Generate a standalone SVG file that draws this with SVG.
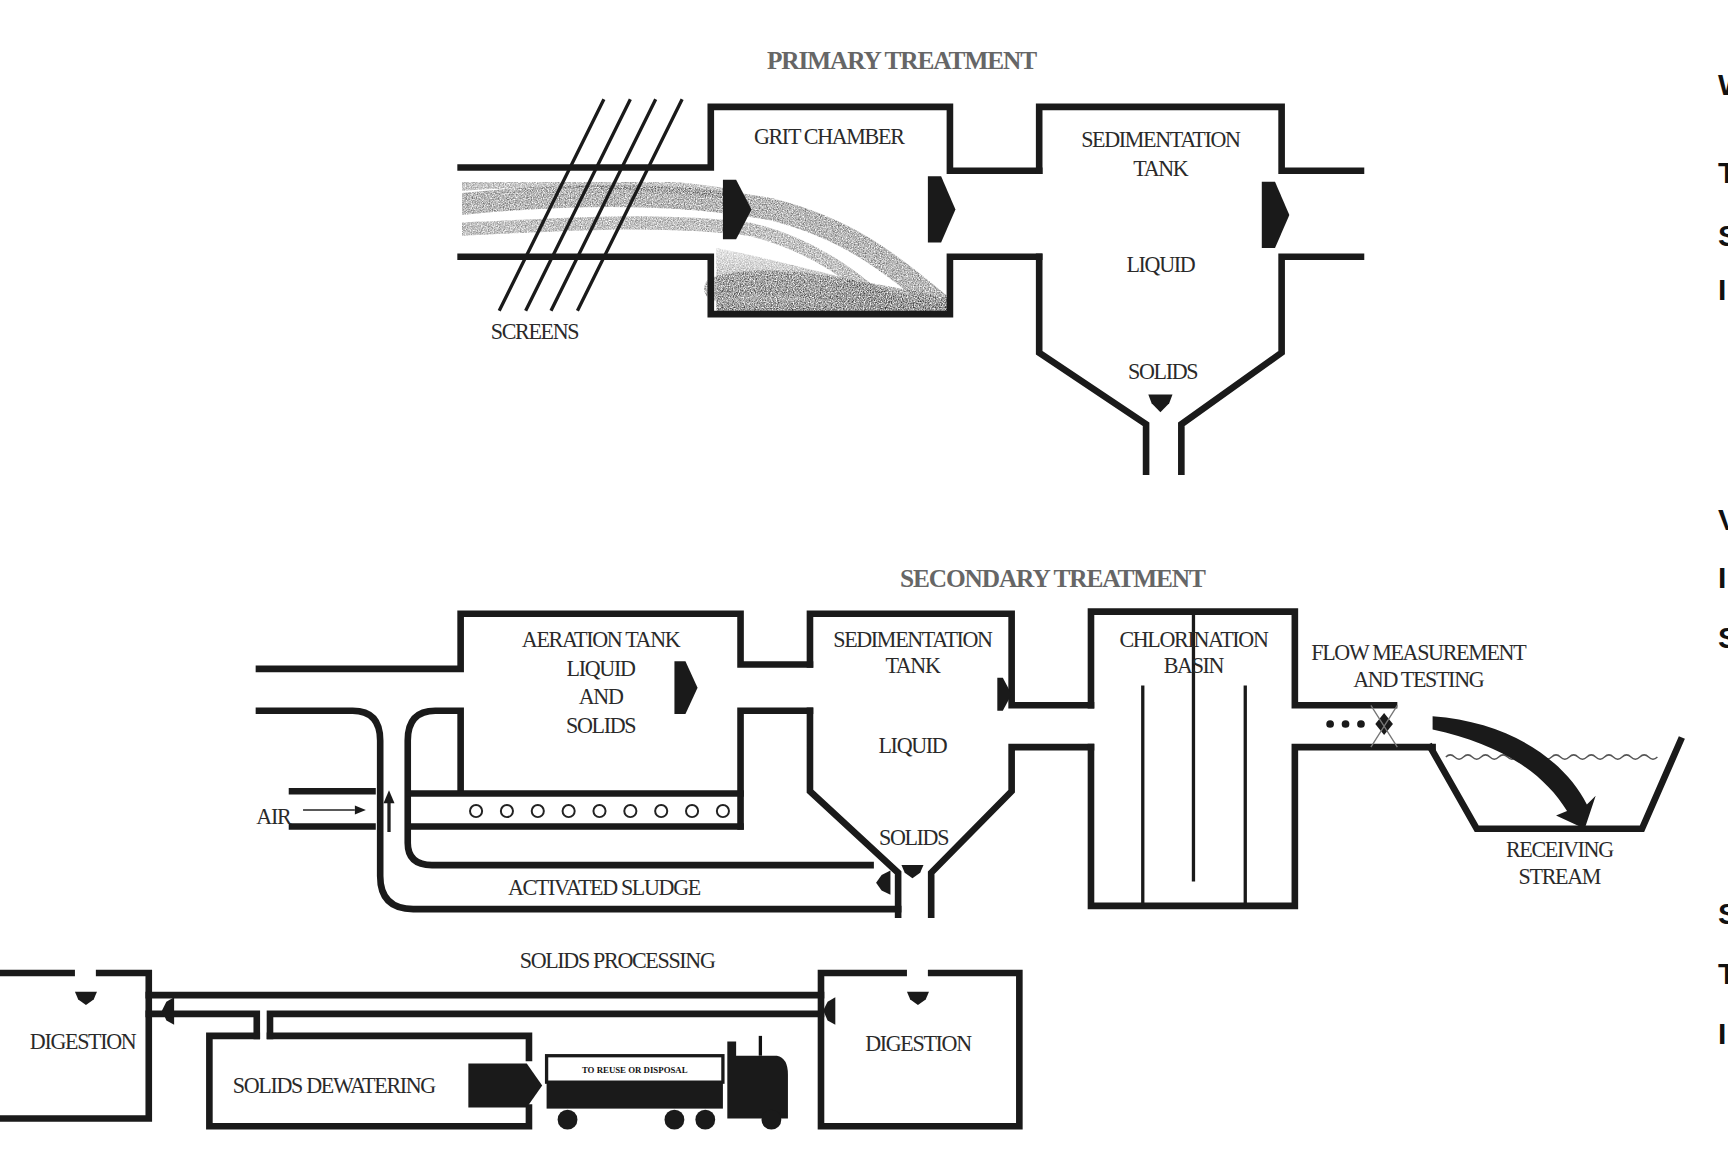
<svg xmlns="http://www.w3.org/2000/svg" width="1728" height="1163" viewBox="0 0 1728 1163">
<defs>
<style>
.w{fill:none;stroke:#1a1a1a;stroke-width:6;stroke-linecap:square}
.t{fill:none;stroke:#1a1a1a;stroke-width:3}
.f{fill:#1a1a1a}
.l{font-family:"Liberation Serif",serif;font-size:20px;fill:#2a2a2a;text-anchor:middle;letter-spacing:-1.2px}
.h{font-family:"Liberation Serif",serif;font-size:23px;font-weight:bold;fill:#666;text-anchor:middle;letter-spacing:-1px}
.e{font-family:"Liberation Sans",sans-serif;font-size:30px;font-weight:bold;fill:#111}
</style>
<linearGradient id="g" x1="0" y1="0" x2="0" y2="1"><stop offset="0" stop-color="#555" stop-opacity="0.3"/><stop offset="1" stop-color="#222" stop-opacity="0.95"/></linearGradient>
<filter id="grain" x="0" y="0" width="1" height="1"><feTurbulence type="fractalNoise" baseFrequency="0.9" numOctaves="2" result="n"/><feColorMatrix in="n" type="matrix" values="0 0 0 0 0  0 0 0 0 0  0 0 0 0 0  0 0 0 -1.6 1.3" result="m"/><feComposite in="SourceGraphic" in2="m" operator="in"/></filter>
</defs>
<rect width="1728" height="1163" fill="#fff"/>
<g transform="scale(1.102)">
<g id="primary">
<text class="h" x="818" y="63">PRIMARY TREATMENT</text>
<g id="flow-sludge" fill="none" stroke="#333" stroke-linecap="round" filter="url(#grain)">
<path d="M420,185 C520,175 620,175 700,190 C780,210 820,250 858,280" stroke-width="20" stroke-opacity="0.7"/>
<path d="M420,208 C520,203 600,198 680,208 C740,222 780,255 810,282" stroke-width="12" stroke-opacity="0.6"/>
<path d="M420,168 C500,163 600,166 660,176" stroke-width="10" stroke-opacity="0.55"/>
<path d="M650,285 L650,225 C700,235 760,250 862,278 L862,285 Z" fill="url(#g)" stroke="none"/>
<path d="M650,262 C700,248 760,262 862,282" stroke-width="22" stroke-opacity="0.7"/>
</g>
<g id="screens" class="t"><path d="M453,282 L548,90 M477,282 L572,90 M500,282 L595,90 M524,282 L619,90"/></g>
<text class="l" x="485" y="308">SCREENS</text>
<g id="grit-chamber">
<path class="w" d="M418,152 H645 V97 H862 V155 H943"/>
<path class="w" d="M418,233 H645 V285 H862 V233 H943"/>
<text class="l" x="752" y="131">GRIT CHAMBER</text>
<path class="f" d="M656,163 L668,163 L682,190 L668,217 L656,217 Z"/>
<path class="f" d="M842,160 L854,160 L867,190 L854,220 L842,220 Z"/>
</g>
<g id="sedimentation-1">
<path class="w" d="M943,155 V97 H1163 V155 H1235"/>
<path class="w" d="M943,233 V320 L1040,385 V428 M1163,233 V320 L1072,385 V428 M1163,233 H1235"/>
<text class="l" x="1053" y="133">SEDIMENTATION</text>
<text class="l" x="1053" y="160">TANK</text>
<text class="l" x="1053" y="247">LIQUID</text>
<text class="l" x="1055" y="344">SOLIDS</text>
<path class="f" d="M1042,358 L1064,358 L1061,366 L1053,374 L1045,366 Z"/>
<path class="f" d="M1145,165 L1157,165 L1170,195 L1157,225 L1145,225 Z"/>
</g>
</g>
<g id="secondary">
<text class="h" x="955" y="533">SECONDARY TREATMENT</text>
<g id="aeration-tank">
<path class="w" d="M235,607 H418 V557 H672 V603 H735"/>
<path class="w" d="M235,645 H320 Q345,645 345,672 V795 Q345,825 375,825 H815"/>
<path class="w" d="M418,645 V718 M418,645 H395 Q370,645 370,672 V765 Q370,785 392,785 H790"/>
<path class="w" d="M672,645 V750 M672,645 H735"/>
<path class="w" d="M265,718 H338 M265,750 H338 M372,720 H672 M372,750 H672"/>
<g fill="none" stroke="#222" stroke-width="1.8"><circle cx="432" cy="736" r="5.5"/><circle cx="460" cy="736" r="5.5"/><circle cx="488" cy="736" r="5.5"/><circle cx="516" cy="736" r="5.5"/><circle cx="544" cy="736" r="5.5"/><circle cx="572" cy="736" r="5.5"/><circle cx="600" cy="736" r="5.5"/><circle cx="628" cy="736" r="5.5"/><circle cx="656" cy="736" r="5.5"/></g>
<text class="l" x="545" y="587" font-size="18">AERATION TANK</text>
<text class="l" x="545" y="613" font-size="18">LIQUID</text>
<text class="l" x="545" y="639" font-size="18">AND</text>
<text class="l" x="545" y="665" font-size="18">SOLIDS</text>
<path class="f" d="M612,600 L622,600 L633,624 L622,648 L612,648 Z"/>
<text class="l" x="248" y="748" font-size="18">AIR</text>
<path d="M275,735 H322" stroke="#222" stroke-width="1.5"/><path class="f" d="M322,731 L332,735 L322,739 Z"/>
<path d="M353,755 V727" stroke="#222" stroke-width="3"/><path class="f" d="M348,729 L353,717 L358,729 Z"/>
<text class="l" x="548" y="812" font-size="18">ACTIVATED SLUDGE</text>
<path class="f" d="M808,790 L808,812 L800,808 L795,801 L800,794 Z"/>
</g>
<g id="sedimentation-2">
<path class="w" d="M735,603 V557 H918 V640 H990"/>
<path class="w" d="M735,645 V718 L815,792 V830 M918,678 V718 L845,792 V830 M918,678 H990"/>
<text class="l" x="828" y="587" font-size="18">SEDIMENTATION</text>
<text class="l" x="828" y="611" font-size="18">TANK</text>
<text class="l" x="828" y="683" font-size="18">LIQUID</text>
<text class="l" x="829" y="767" font-size="17">SOLIDS</text>
<path class="f" d="M818,785 L838,785 L835,792 L828,797 L821,792 Z"/>
<path class="f" d="M905,615 L910,615 L918,630 L910,645 L905,645 Z"/>
</g>
<g id="chlorination-basin">
<path class="w" d="M990,640 V555 H1175 V640 H1265"/>
<path class="w" d="M990,678 V822 H1175 V678 H1300"/>
<path class="t" d="M1037,622 V822 M1083,557 V800 M1130,622 V822"/>
<text class="l" x="1083" y="587" font-size="18">CHLORINATION</text>
<text class="l" x="1083" y="611" font-size="18">BASIN</text>
</g>
<g id="flow-measurement">
<text class="l" x="1287" y="599" font-size="18">FLOW MEASUREMENT</text>
<text class="l" x="1287" y="623" font-size="18">AND TESTING</text>
<circle class="f" cx="1207" cy="657" r="3.5"/><circle class="f" cx="1221" cy="657" r="3.5"/><circle class="f" cx="1235" cy="657" r="3.5"/>
<path class="f" d="M1248,657 L1256,647 L1264,657 L1256,667 Z"/>
<path d="M1244,640 L1268,678 M1268,640 L1244,678" stroke="#777" stroke-width="1.2"/>
</g>
<g id="receiving-stream">
<path class="w" d="M1298,678 L1340,752 H1490 L1525,672" stroke-width="5"/>
<path d="M1312,687 q4,-4 8,0 t8,0 t8,0 t8,0 t8,0 t8,0 t8,0 t8,0 t8,0 t8,0 t8,0 t8,0 t8,0 t8,0 t8,0 t8,0 t8,0 t8,0 t8,0 t8,0 t8,0 t8,0 t8,0 t8,0" fill="none" stroke="#555" stroke-width="1.3"/>
<path class="f" d="M1300,650 C1370,655 1420,690 1440,730 L1448,722 L1438,752 L1412,740 L1422,736 C1400,700 1360,675 1300,662 Z"/>
<text class="l" x="1415" y="778" font-size="18">RECEIVING</text>
<text class="l" x="1415" y="802" font-size="18">STREAM</text>
</g>
</g>
<g id="solids-processing">
<text class="l" x="560" y="878" fill="#777" font-size="20">SOLIDS PROCESSING</text>
<g id="digestion-left">
<path class="w" d="M0,883 H65 M90,883 H135 V1015 H0"/>
<path class="f" d="M68,900 L88,900 L85,907 L78,912 L71,907 Z"/>
<path class="f" d="M158,905 L158,930 L151,926 L147,917 L151,909 Z"/>
<text class="l" x="75" y="952" font-size="18">DIGESTION</text>
</g>
<g id="connector-pipes">
<path class="w" d="M135,903 H745"/>
<path class="w" d="M135,920 H233 V940 M245,940 V920 H745" stroke-width="5"/>
</g>
<g id="solids-dewatering">
<path class="w" d="M190,940 H233 M245,940 H480 V960 M480,1005 V1022 H190 V940"/>
<text class="l" x="303" y="992" font-size="18">SOLIDS DEWATERING</text>
<path class="f" d="M425,965 L478,965 L492,985 L478,1005 L425,1005 Z"/>
</g>
<g id="truck">
<rect x="496" y="958" width="160" height="24" fill="#fff" stroke="#1a1a1a" stroke-width="3"/>
<text x="576" y="974" font-family="Liberation Serif,serif" font-size="8" font-weight="bold" text-anchor="middle" fill="#111">TO REUSE OR DISPOSAL</text>
<rect x="496" y="982" width="160" height="24" class="f"/>
<path class="f" d="M660,945 H668 V958 H705 Q715,960 715,975 V1015 H660 Z"/>
<path d="M690,940 V958" stroke="#111" stroke-width="3"/>
<circle class="f" cx="515" cy="1016" r="9"/><circle class="f" cx="612" cy="1016" r="9"/><circle class="f" cx="640" cy="1016" r="9"/><circle class="f" cx="700" cy="1016" r="9"/>
</g>
<g id="digestion-right">
<path class="w" d="M745,1022 V883 H820 M845,883 H925 V1022 H745"/>
<path class="f" d="M823,900 L843,900 L840,907 L833,912 L826,907 Z"/>
<path class="f" d="M758,905 L758,930 L751,926 L747,917 L751,909 Z"/>
<text class="l" x="833" y="954" font-size="18">DIGESTION</text>
</g>
</g>
</g>
<g id="edge-letters">
<text class="e" x="1718" y="95">W</text>
<text class="e" x="1718" y="183">T</text>
<text class="e" x="1718" y="246">S</text>
<text class="e" x="1718" y="300">I</text>
<text class="e" x="1718" y="530">V</text>
<text class="e" x="1718" y="588">I</text>
<text class="e" x="1718" y="648">S</text>
<text class="e" x="1718" y="924">S</text>
<text class="e" x="1718" y="984">T</text>
<text class="e" x="1718" y="1044">I</text>
</g>
</svg>
